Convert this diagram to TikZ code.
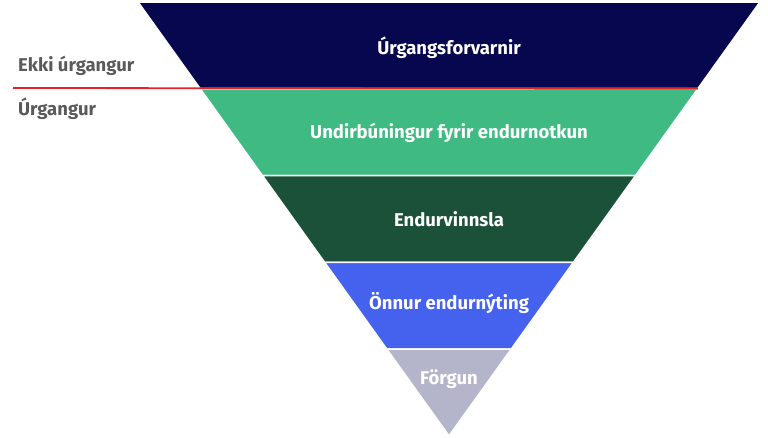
\documentclass[tikz,border=0pt]{standalone}
\usepackage{fontspec}
\setmainfont{Fira Sans}
\usetikzlibrary{calc}
\definecolor{navy}{HTML}{06074F}
\definecolor{lightgreen}{HTML}{3EBA82}
\definecolor{darkgreen}{HTML}{1B5139}
\definecolor{brightblue}{HTML}{4462EE}
\definecolor{lavender}{HTML}{B4B4CB}
\definecolor{labelgray}{HTML}{5A5A5A}
\definecolor{redline}{HTML}{E4242B}
\tikzset{
  layer/.style={draw=white, line width=1.6pt, line join=round},
  layertext/.style={text=white, font=\bfseries\fontsize{18.5}{22}\selectfont},
  sidelabel/.style={text=labelgray, anchor=west, inner xsep=0pt, font=\bfseries\fontsize{18.5}{22}\selectfont}
}
\begin{document}
\begin{tikzpicture}[x=1pt, y=1pt]
    \useasboundingbox (0,0) rectangle (768,438);
    \coordinate (TL) at (138,436);
    \coordinate (TR) at (760,436);
    \coordinate (apex) at (449,2);
    % layers, top to bottom
    \foreach \col [count=\i] in {navy, lightgreen, darkgreen, brightblue, lavender} {
        \pgfmathsetmacro{\ta}{(\i-1)/5}
        \pgfmathsetmacro{\tb}{\i/5}
        \fill[\col] ($(TL)!\ta!(apex)$) -- ($(TR)!\ta!(apex)$)
            -- ($(TR)!\tb!(apex)$) -- ($(TL)!\tb!(apex)$) -- cycle;
        \draw[layer] ($(TL)!\ta!(apex)$) -- ($(TR)!\ta!(apex)$)
            -- ($(TR)!\tb!(apex)$) -- ($(TL)!\tb!(apex)$) -- cycle;
    }
    \node[layertext] (prevention) at (449,390) {Úrgangsforvarnir};
    \node[layertext] (reuse) at (449,305) {Undirbúningur fyrir endurnotkun};
    \node[layertext] (recycling) at (449,219) {Endurvinnsla};
    \node[layertext] (recovery) at (449,135) {Önnur endurnýting};
    \node[layertext] (disposal) at (449,59) {Förgun};
    % waste / not waste border
    \coordinate (redstart) at (13,350);
    \coordinate (redend) at ($(TR)!0.2!(apex)$);
    \draw[redline, line width=1.8pt] (redstart) -- (redend);
    \node[sidelabel] (notwaste) at (18,372) {Ekki úrgangur};
    \node[sidelabel] (waste) at (18,329) {Úrgangur};
\end{tikzpicture}
\end{document}
